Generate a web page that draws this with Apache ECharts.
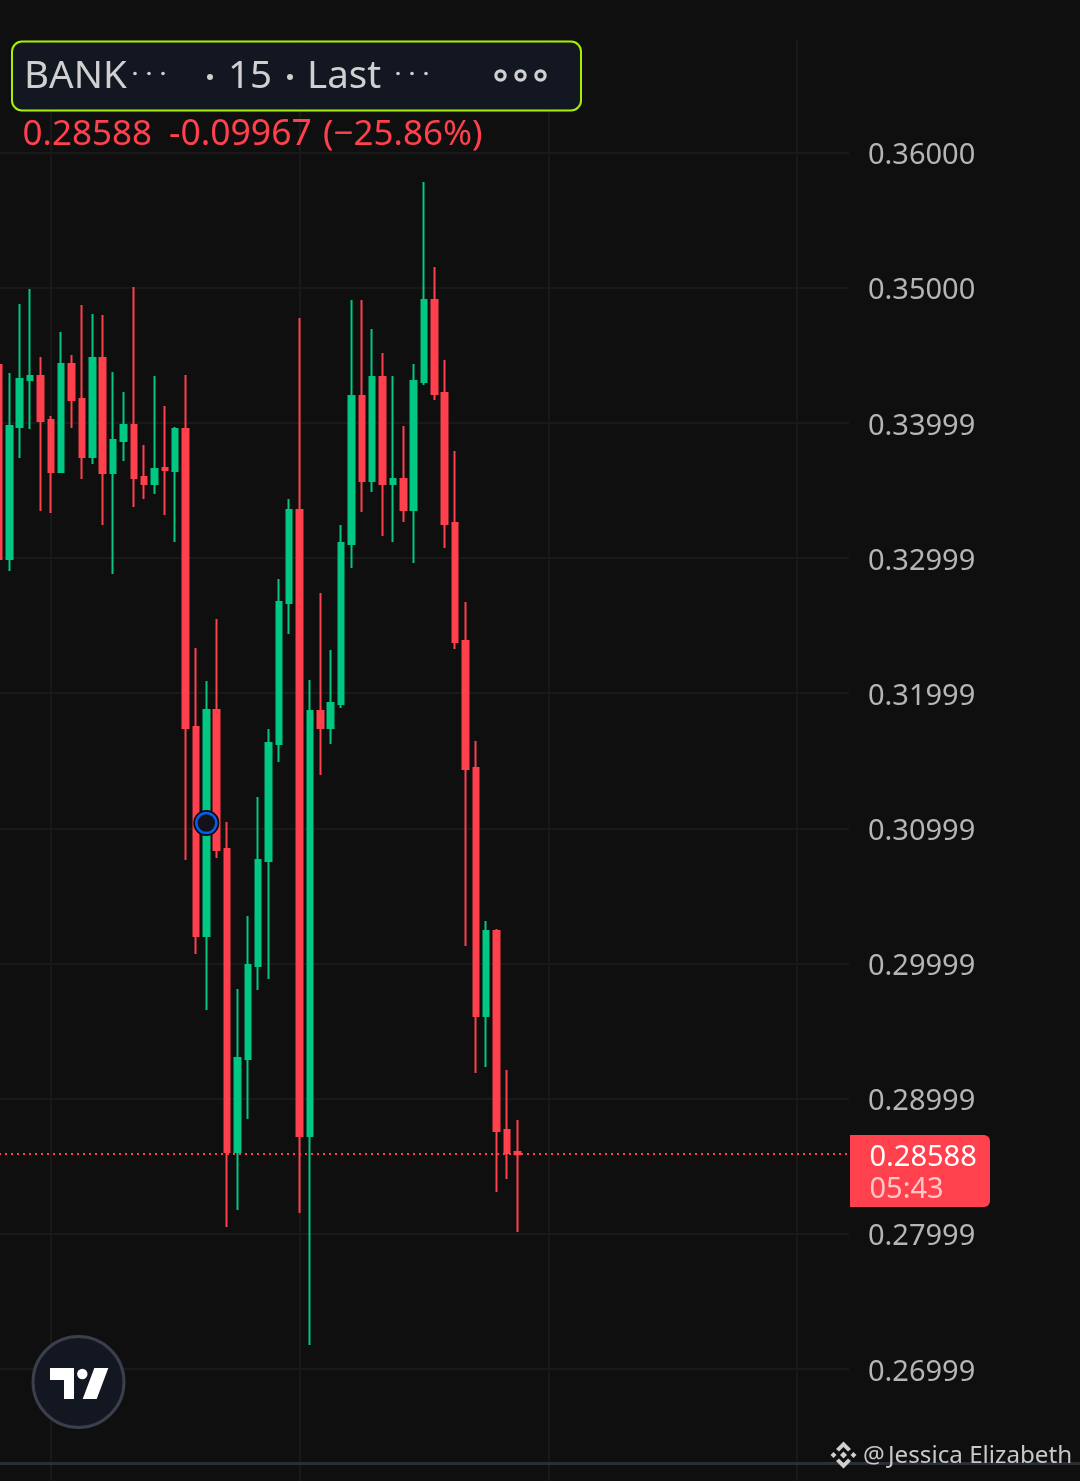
<!DOCTYPE html>
<html>
<head>
<meta charset="utf-8">
<style>html,body{margin:0;padding:0;background:#0f0f0f;width:1080px;height:1481px;overflow:hidden}
#w{position:relative;width:1080px;height:1481px;overflow:hidden}
#c{position:absolute;left:-1px;top:0;width:1081px;height:1530px}</style>
<script src="https://cdn.jsdelivr.net/npm/echarts@6/dist/echarts.min.js"></script>
</head>
<body>
<div id="w"><div id="c"></div></div>
<script>
const opens  = [.34428,.32993,.33969,.34317,.34347,.34021,.33636,.34435,.34176,.33747,.34480,.33629,.33866,.33984,.33599,.33548,.33666,.33644,.33955,.31750,.30203,.31875,.30847,.28605,.29293,.29981,.30758,.31624,.32667,.33355,.28723,.31868,.31742,.31920,.33104,.34199,.33570,.34339,.33548,.33585,.33355,.34302,.34909,.34221,.33259,.32386,.31446,.29611,.30240,.28768,.28605];
const closes = [.32993,.33977,.34324,.34347,.34014,.33636,.34435,.34169,.33747,.34480,.33629,.33873,.33984,.33592,.33548,.33659,.33651,.33955,.31742,.30203,.31875,.30840,.28605,.29301,.29989,.30766,.31631,.32675,.33355,.28723,.31868,.31742,.31927,.33111,.34199,.33570,.34339,.33548,.33585,.33355,.34310,.34909,.34213,.33252,.32379,.31439,.29611,.30240,.28760,.28598,.28588];
const lows   = [.32985,.32904,.33740,.33955,.33348,.33333,.33636,.33962,.33585,.33696,.33244,.32882,.33718,.33377,.33437,.33474,.33318,.33118,.30766,.30070,.29656,.30780,.28050,.28176,.28849,.29804,.29885,.31491,.32438,.28154,.27177,.31394,.31624,.31890,.32926,.33340,.33488,.33163,.33118,.33266,.32963,.34280,.34169,.33074,.32327,.30129,.29189,.29234,.28309,.28405,.28013];
const highs  = [.34428,.34369,.34879,.34990,.34487,.34051,.34672,.34502,.34872,.34805,.34798,.34376,.34228,.35005,.33836,.34347,.34125,.33969,.34354,.32334,.32090,.32549,.31047,.29811,.30351,.31232,.31735,.32845,.33437,.34776,.32097,.32741,.32319,.33244,.34909,.34909,.34694,.34517,.34347,.33977,.34435,.35782,.35153,.34465,.33792,.32675,.31646,.30314,.30255,.29212,.28842];
const tickValues = [0.27,0.28,0.29,0.30,0.31,0.32,0.33,0.34,0.35,0.36];
const tickLabels = ['0.26999','0.27999','0.28999','0.29999','0.30999','0.31999','0.32999','0.33999','0.35000','0.36000'];
const slotCount = 83;
const categories = Array.from({length: slotCount}, (_, i) => String(i));
const lastPrice = 0.28588;
const lastPriceText = '0.28588';
const countdownText = '05:43';
const markerIndex = 20;
const markerPrice = 0.31039;

const UP = '#00C781', DOWN = '#FF414D', BG = '#0F0F0F', GRID = '#191919';
const FONT = '"Noto Sans", sans-serif';

const txt = (x, y, text, size, fill, extra) => ({
  type: 'text', x, y, z: 20,
  style: Object.assign({ text, font: size + 'px ' + FONT, fill, textVerticalAlign: 'middle', textBaseline: 'middle' }, extra || {})
});
const poly = (points, fill) => ({ type: 'polygon', z: 21, shape: { points }, style: { fill } });
const ring = (cx) => ({ type: 'circle', z: 21, shape: { cx, cy: 75.5, r: 4.6 }, style: { fill: 'none', stroke: '#D0D0D0', lineWidth: 3.2 } });
const dot = (cx, cy, r) => ({ type: 'circle', z: 21, shape: { cx, cy, r }, style: { fill: '#D0D0D0' } });

const chart = echarts.init(document.getElementById('c'), null, { renderer: 'canvas', width: 1081, height: 1530 });
chart.setOption({
  animation: false,
  backgroundColor: BG,
  grid: { left: 0, top: 17.4, width: 850, height: 1486.6, containLabel: false },
  xAxis: {
    type: 'category', data: categories, boundaryGap: false,
    axisLine: { show: false }, axisTick: { show: false }, axisLabel: { show: false },
    splitLine: { show: true, interval: (i) => i % 24 === 5, lineStyle: { color: GRID, width: 2 } }
  },
  yAxis: {
    type: 'value', position: 'right', min: 0.26, max: 0.37, interval: 0.01, scale: true,
    axisLine: { show: false }, axisTick: { show: false },
    axisLabel: {
      margin: 19, color: '#B5B5B5', fontSize: 29, fontFamily: FONT, align: 'left',
      verticalAlign: 'top', padding: [-11, 0, 0, 0],
      formatter: (v) => { const i = tickValues.findIndex(t => Math.abs(t - v) < 1e-6); return i < 0 ? '' : tickLabels[i]; }
    },
    splitLine: { show: true, showMinLine: false, showMaxLine: false, lineStyle: { color: GRID, width: 2 } }
  },
  series: [{
    type: 'candlestick', clip: false, barWidth: 6,
    data: opens.map((o, i) => [o, closes[i], lows[i], highs[i]]),
    itemStyle: { color: UP, color0: DOWN, borderColor: UP, borderColor0: DOWN, borderWidth: 2 },
    markLine: {
      silent: true, symbol: 'none', animation: false, precision: 5,
      label: { show: false },
      lineStyle: { color: DOWN, type: [2, 4], width: 2 },
      data: [{ yAxis: lastPrice }]
    },
    markPoint: {
      silent: true, animation: false, label: { show: false },
      data: [
        { coord: [markerIndex, markerPrice], symbol: 'circle', symbolSize: 26, itemStyle: { color: '#0A0A0A', borderWidth: 0 } },
        { coord: [markerIndex, markerPrice], symbol: 'circle', symbolSize: 20, itemStyle: { color: '#111318', borderColor: '#0A5CF0', borderWidth: 2.5 } }
      ]
    }
  }],
  graphic: [{
    type: 'group', x: 1, y: 0, children: [
    { type: 'rect', z: 5, shape: { x: -1, y: 0, width: 1082, height: 40 }, style: { fill: BG } },
    { type: 'rect', z: 15, shape: { x: -1, y: 1462, width: 1081, height: 3 }, style: { fill: '#2A2E35' } },
    // header panel
    { type: 'rect', z: 18, shape: { x: 12, y: 41.5, width: 569, height: 69, r: 10 }, style: { fill: '#131722', stroke: '#A8F000', lineWidth: 2 } },
    txt(24, 77, 'BANK', 38.5, '#D0D0D0'),
    dot(135, 73.5, 1.8), dot(149, 73.5, 1.8), dot(163, 73.5, 1.8),
    dot(210, 77, 3),
    txt(228, 77, '15', 38.5, '#D0D0D0'),
    dot(290, 77, 3),
    txt(307, 77, 'Last', 38.5, '#D0D0D0'),
    dot(398, 73.5, 1.8), dot(412, 73.5, 1.8), dot(426, 73.5, 1.8),
    ring(500.5), ring(520.5), ring(540.5),
    // change line
    txt(22.5, 135, lastPriceText, 35, '#FF414D'),
    txt(169, 135, '-0.09967', 35.5, '#FF414D'),
    txt(323, 135, '(\u221225.86%)', 35, '#FF414D'),
    // price tag
    { type: 'rect', z: 18, shape: { x: 850, y: 1135, width: 140, height: 72, r: [0, 6, 6, 0] }, style: { fill: '#FF414D' } },
    txt(869.5, 1158, lastPriceText, 29, '#FFFFFF'),
    txt(869.5, 1190, countdownText, 29, 'rgba(255,255,255,0.7)'),
    // TradingView badge
    { type: 'circle', z: 18, shape: { cx: 78.5, cy: 1382, r: 45.5 }, style: { fill: '#131722', stroke: '#3B3F4B', lineWidth: 3 } },
    poly([[50, 1368], [74, 1368], [74, 1399], [64, 1399], [64, 1380], [50, 1380]], '#FFFFFF'),
    { type: 'circle', z: 21, shape: { cx: 82.3, cy: 1374, r: 5.2 }, style: { fill: '#FFFFFF' } },
    poly([[94.3, 1368], [108.3, 1368], [96.7, 1399], [82.7, 1399]], '#FFFFFF'),
    // watermark
    poly([[843.5, 1451.5], [847, 1455], [843.5, 1458.5], [840, 1455]], '#D0D0D0'),
    poly([[833.5, 1452], [836.5, 1455], [833.5, 1458], [830.5, 1455]], '#D0D0D0'),
    poly([[853.5, 1452], [856.5, 1455], [853.5, 1458], [850.5, 1455]], '#D0D0D0'),
    poly([[843.5, 1441.5], [851, 1449], [848, 1451.5], [843.5, 1447], [839, 1451.5], [836, 1449]], '#D0D0D0'),
    poly([[843.5, 1468.5], [851, 1461], [848, 1458.5], [843.5, 1463], [839, 1458.5], [836, 1461]], '#D0D0D0'),
    txt(863, 1456, '@', 24.2, '#C8C8C8'),
    txt(888, 1456, 'Jessica Elizabeth', 24.2, '#C8C8C8')
    ]
  }]
});
</script>
</body>
</html>
